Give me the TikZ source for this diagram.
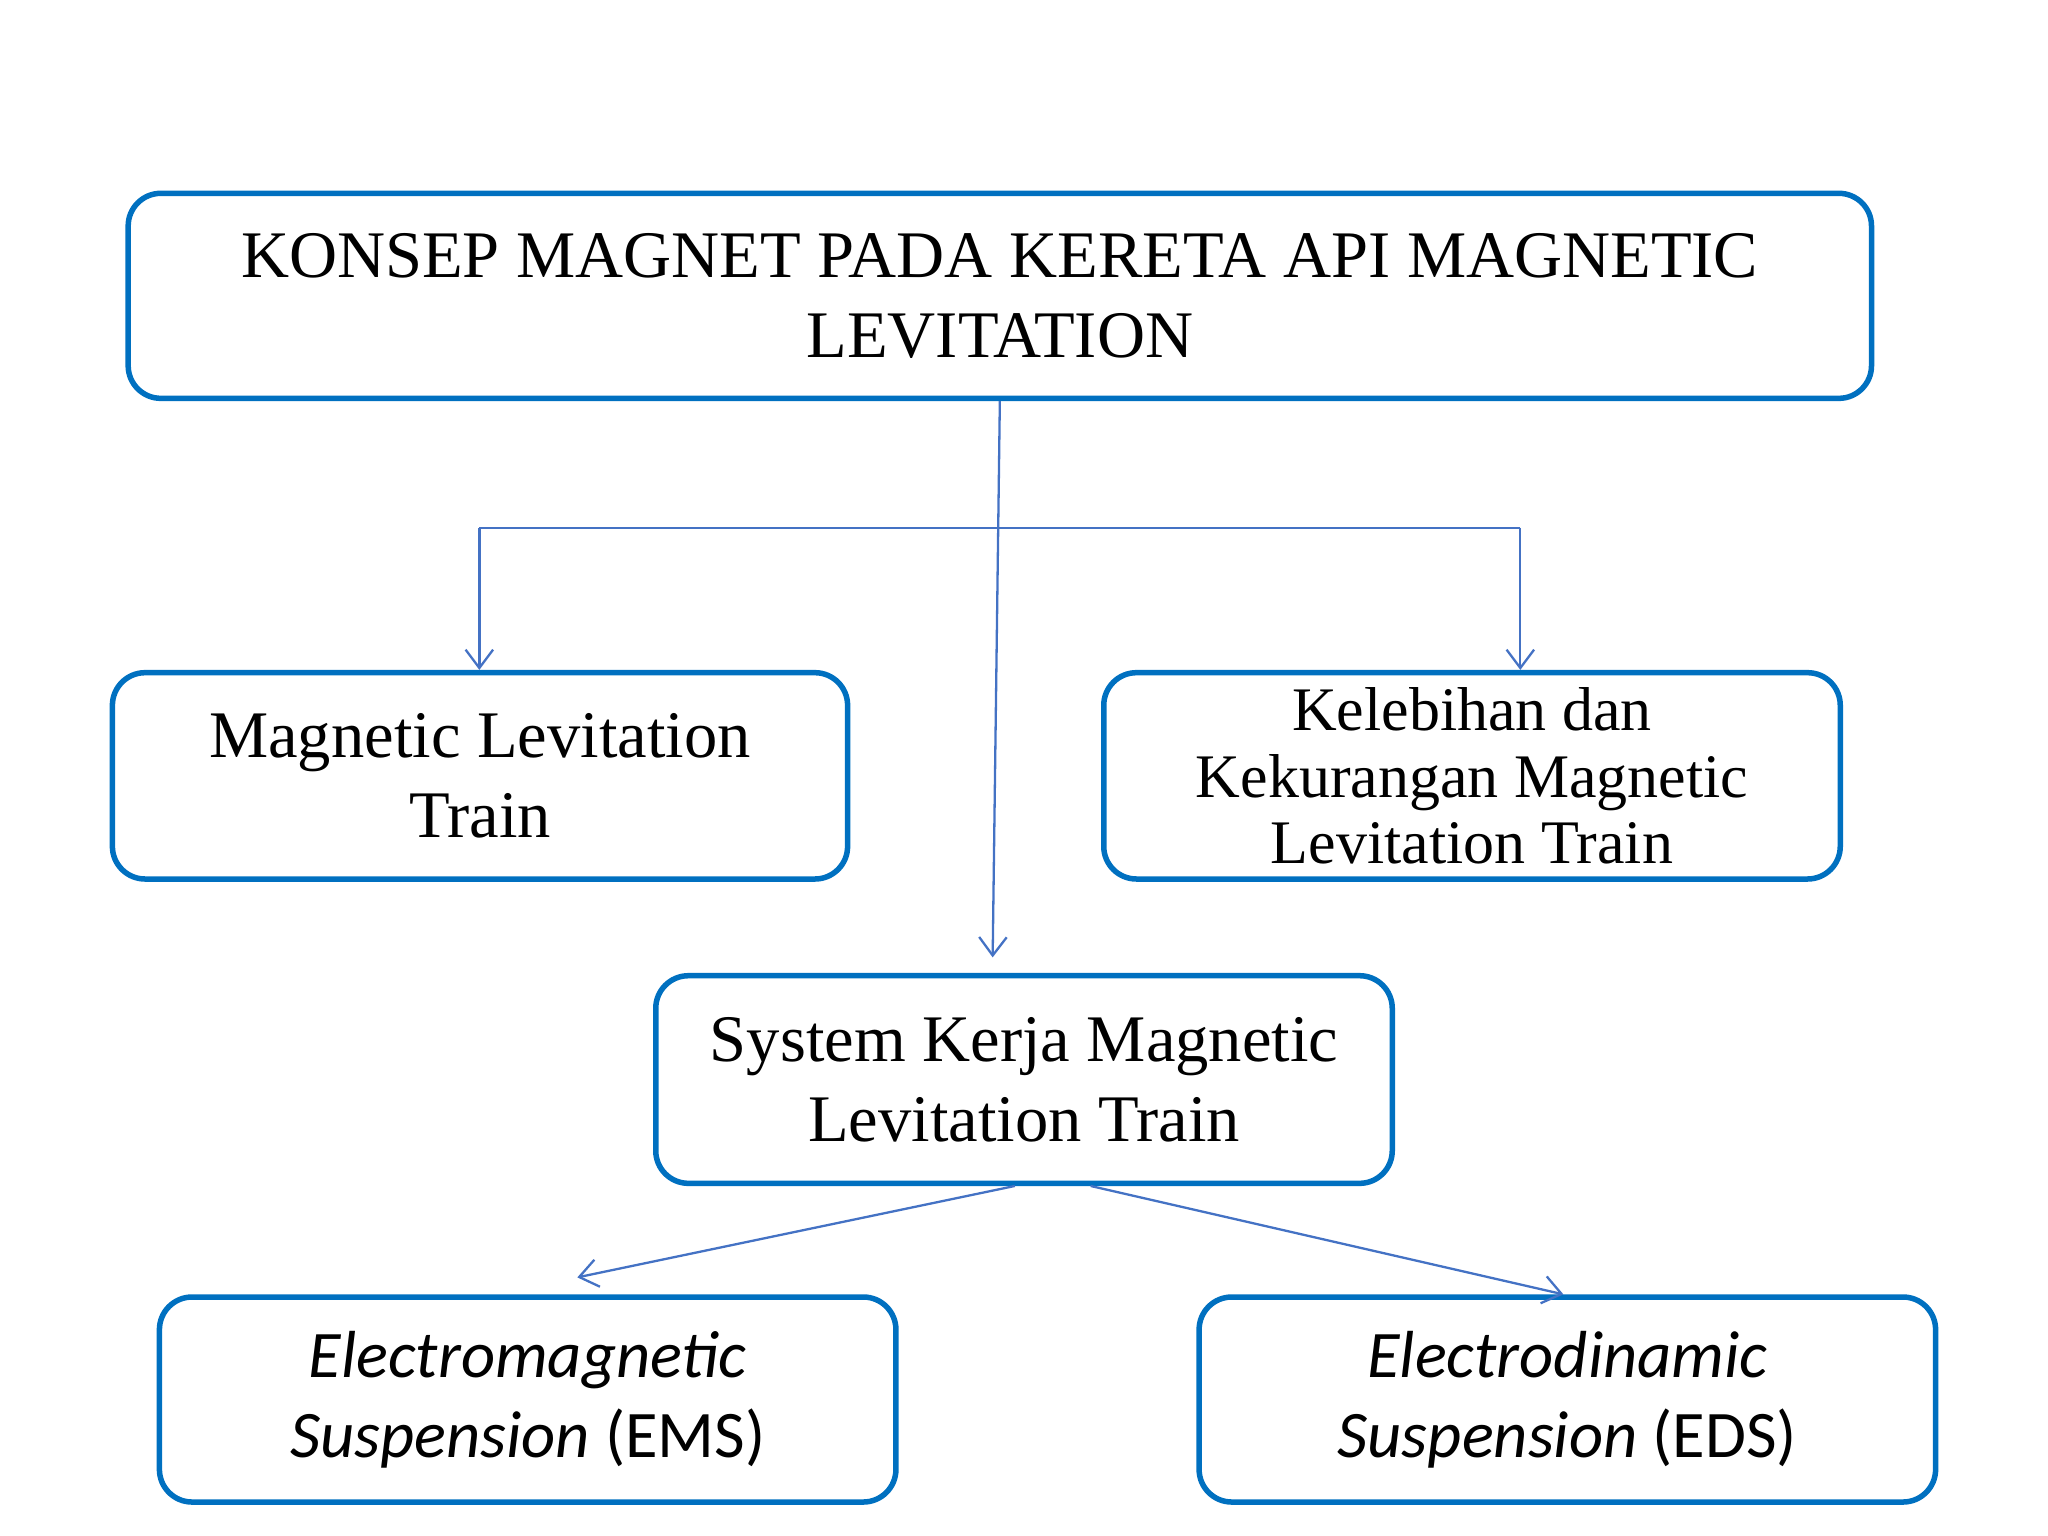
\documentclass[tikz,border=0pt]{standalone}
\usepackage{fontspec}
\setmainfont{Liberation Serif}
\newfontfamily\sansf{Carlito}
\usetikzlibrary{arrows.meta}
\definecolor{bd}{RGB}{0,112,192}
\definecolor{ln}{RGB}{68,114,196}
\begin{document}
\begin{tikzpicture}[x=0.02cm,y=-0.02cm,
 box/.style={draw=bd,line width=2.4pt,rounded corners=0.5cm,align=center,inner sep=0pt,
   font=\fontsize{29}{35}\selectfont},
 con/.style={draw=ln,line width=1pt},
 arr/.style={con,-{Straight Barb[length=8pt,width=12pt]}}]
\useasboundingbox (0,0) rectangle (1568,1176);
\node[box,minimum width=26.7cm,minimum height=3.14cm] (top) at (765.5,226.5) {KONSEP MAGNET PADA KERETA API MAGNETIC\\LEVITATION};
\node[box,minimum width=11.26cm,minimum height=3.16cm] (l) at (367.5,594) {Magnetic Levitation\\Train};
\node[box,minimum width=11.28cm,minimum height=3.16cm,font=\fontsize{27}{29}\selectfont] (r) at (1127,594) {Kelebihan dan\\Kekurangan Magnetic\\Levitation Train};
\node[box,minimum width=11.28cm,minimum height=3.18cm] (m) at (784,826.5) {System Kerja Magnetic\\Levitation Train};
\node[box,minimum width=11.28cm,minimum height=3.14cm,font=\sansf\fontsize{29}{35}\selectfont] (bl) at (404,1071.5) {\itshape Electromagnetic\\\textit{Suspension} (EMS)};
\node[box,minimum width=11.28cm,minimum height=3.14cm,font=\sansf\fontsize{29}{35}\selectfont] (br) at (1200,1071.5) {\itshape Electrodinamic\\\textit{Suspension} (EDS)};
\coordinate (j1) at (367,404);
\coordinate (j2) at (1164,404);
\coordinate (mt) at (760,733);
\draw[arr] (top.south) -- (mt);
\draw[con] (j1) -- (j2);
\draw[arr] (j1) -- (l.north -| j1);
\draw[arr] (j2) -- (r.north -| j2);
\coordinate (a1) at (777,908);
\coordinate (a2) at (835,908);
\coordinate (e1) at (442,978);
\coordinate (e2) at (1197,991);
\draw[arr] (a1) -- (e1);
\draw[arr] (a2) -- (e2);
\end{tikzpicture}
\end{document}
